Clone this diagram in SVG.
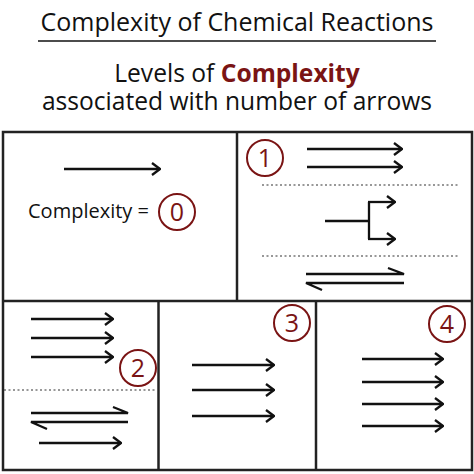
<svg xmlns="http://www.w3.org/2000/svg" width="474" height="474" viewBox="0 0 474 474">
<style>
.t{font-family:"Open Sans","DejaVu Sans",sans-serif;fill:#111}
.num{font-family:"Open Sans","DejaVu Sans",sans-serif;fill:#7a1414;font-size:25px;text-anchor:middle}
.ring{fill:none;stroke:#7a1414;stroke-width:2}
.ar{fill:none;stroke:#111;stroke-width:2.3;marker-end:url(#h)}
.ln{fill:none;stroke:#111;stroke-width:2.3}
.dot{stroke:#333;stroke-width:1.2;stroke-dasharray:2 2.5}
.box{fill:none;stroke:#222;stroke-width:2.5}
</style>
<defs>
<marker id="h" viewBox="0 0 10 14" refX="9" refY="7" markerWidth="10" markerHeight="14" markerUnits="userSpaceOnUse" orient="auto">
<path d="M1,1 L9,7 L1,13" fill="none" stroke="#111" stroke-width="2.3"/>
</marker>
</defs>
<rect width="474" height="474" fill="#fff"/>
<g id="title">
<text class="t" x="237" y="31" font-size="25" text-anchor="middle">Complexity of Chemical Reactions</text>
<line x1="38" y1="41" x2="436" y2="41" stroke="#111" stroke-width="1.5"/>
<text class="t" x="237" y="82" font-size="24.6" text-anchor="middle">Levels of <tspan font-weight="bold" fill="#7a1414">Complexity</tspan></text>
<text class="t" x="237" y="110" font-size="24.6" text-anchor="middle">associated with number of arrows</text>
</g>
<g id="frame">
<rect class="box" x="3" y="132" width="469" height="338"/>
<line class="box" x1="237" y1="132" x2="237" y2="301"/>
<line class="box" x1="3" y1="301" x2="472" y2="301"/>
<line class="box" x1="158.5" y1="301" x2="158.5" y2="470"/>
<line class="box" x1="316" y1="301" x2="316" y2="470"/>
</g>
<g id="panel0">
<path class="ar" d="M64,169 H160"/>
<text class="t" x="28" y="218" font-size="20">Complexity =</text>
<circle class="ring" cx="177" cy="212" r="18"/>
<text class="num" x="177" y="221">0</text>
</g>
<g id="panel1">
<circle class="ring" cx="265" cy="158" r="18"/>
<text class="num" x="265" y="167">1</text>
<path class="ar" d="M307,149 H402"/>
<path class="ar" d="M307,167 H402"/>
<line class="dot" x1="262" y1="185" x2="460" y2="185"/>
<path class="ln" d="M325,221 H369 M369,202 V239"/>
<path class="ar" d="M368,202 H395"/>
<path class="ar" d="M368,239 H395"/>
<line class="dot" x1="262" y1="256" x2="460" y2="256"/>
<path class="ln" d="M306,274 H404 L388,268"/>
<path class="ln" d="M404,283 H306 L322,290"/>
</g>
<g id="panel2">
<path class="ar" d="M31,319 H113"/>
<path class="ar" d="M31,338 H113"/>
<path class="ar" d="M31,357 H113"/>
<circle class="ring" cx="138" cy="368" r="18"/>
<text class="num" x="138" y="377">2</text>
<line class="dot" x1="4" y1="390" x2="157" y2="390"/>
<path class="ln" d="M31,413 H128 L113,407"/>
<path class="ln" d="M128,422 H31 L47,429"/>
<path class="ar" d="M39,443 H121"/>
</g>
<g id="panel3">
<circle class="ring" cx="292" cy="323" r="18"/>
<text class="num" x="292" y="332">3</text>
<path class="ar" d="M192,365 H274"/>
<path class="ar" d="M192,390 H274"/>
<path class="ar" d="M192,416 H274"/>
</g>
<g id="panel4">
<circle class="ring" cx="447" cy="324" r="18"/>
<text class="num" x="447" y="333">4</text>
<path class="ar" d="M362,359 H443"/>
<path class="ar" d="M362,382 H443"/>
<path class="ar" d="M362,404 H443"/>
<path class="ar" d="M362,426 H443"/>
</g>
</svg>
